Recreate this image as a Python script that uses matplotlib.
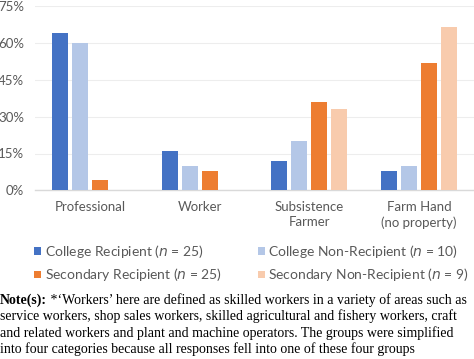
import matplotlib
matplotlib.use("Agg")
import matplotlib.pyplot as plt
import numpy as np
from matplotlib.patches import Patch

categories = ["Professional", "Worker", "Subsistence\nFarmer", "Farm Hand\n(no property)"]
series_names = ["College Recipient ($n$ = 25)", "College Non-Recipient ($n$ = 10)",
                "Secondary Recipient ($n$ = 25)", "Secondary Non-Recipient ($n$ = 9)"]
college_recipient = [64, 16, 12, 8]
college_nonrecipient = [60, 10, 20, 10]
secondary_recipient = [4, 8, 36, 52]
secondary_nonrecipient = [0, 0, 33.3, 66.7]
colors = ["#4472C4", "#B4C7E7", "#ED7D31", "#F8CBAD"]
yticks = [0, 15, 30, 45, 60, 75]
note_bold = "Note(s):"
note_line1 = " *\u2018Workers\u2019 here are defined as skilled workers in a variety of areas such as"
note_lines = ["service workers, shop sales workers, skilled agricultural and fishery workers, craft",
              "and related workers and plant and machine operators. The groups were simplified",
              "into four categories because all responses fell into one of these four groups"]

W, H = 474, 359
fig = plt.figure(figsize=(W / 100, H / 100), dpi=100)
ax = fig.add_axes([35 / W, (H - 190.3) / H, 1 - 35 / W, (190.3 - 6.3) / H])

sfont = "Lato"
gray = "#595959"
data = [college_recipient, college_nonrecipient, secondary_recipient, secondary_nonrecipient]
x = np.arange(len(categories))
step = 20 / 110
bw = 16 / 110
for i, (vals, c) in enumerate(zip(data, colors)):
    ax.bar(x + (i - 1.5) * step, vals, width=bw, color=c, zorder=3)

ax.set_xlim(-0.5, len(categories) - 0.5)
ax.set_ylim(0, 75)
ax.set_yticks(yticks)
ax.set_yticklabels([f"{t}%" for t in yticks], fontfamily=sfont, fontsize=9.5, color=gray)
ax.set_xticks(x)
ax.set_xticklabels(categories, fontfamily=sfont, fontsize=9.5, color=gray, linespacing=1.3)
ax.tick_params(axis="both", length=0)
ax.tick_params(axis="y", pad=8)
ax.tick_params(axis="x", pad=8)
ax.grid(axis="y", color="#EDEDED", linewidth=0.8, zorder=0)
for s in ["top", "right", "left"]:
    ax.spines[s].set_visible(False)
ax.spines["bottom"].set_color("#D9D9D9")
ax.spines["bottom"].set_linewidth(1.0)

order = [0, 2, 1, 3]
handles = [Patch(facecolor=colors[i], edgecolor="none") for i in order]
labels = [series_names[i] for i in order]
fig.legend(handles, labels, loc="upper left", bbox_to_anchor=(30 / W, 1 - 239 / H),
           ncol=2, frameon=False, handlelength=0.5, handleheight=0.5, handletextpad=0.25,
           columnspacing=2.6, labelspacing=0.45, borderaxespad=0, borderpad=0.3,
           prop={"family": sfont, "size": 10}, labelcolor=gray)

nfs = 10.0
t1 = fig.text(0.0, 1 - 304 / H, note_bold, fontfamily="Liberation Serif", fontweight="bold",
              fontsize=nfs, va="baseline", ha="left")
ax.annotate(note_line1, xy=(1, 0), xycoords=t1, va="bottom", ha="left",
            fontfamily="Liberation Serif", fontsize=nfs, annotation_clip=False)
for k, line in enumerate(note_lines):
    fig.text(0.0, 1 - (320.3 + 16.3 * k) / H, line, fontfamily="Liberation Serif", fontsize=nfs,
             va="baseline", ha="left")

fig.savefig("out.png", dpi=100)
